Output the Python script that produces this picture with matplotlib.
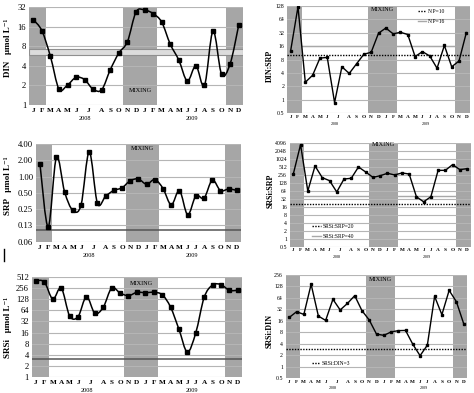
import numpy as np
import matplotlib.pyplot as plt
from matplotlib.path import Path
from matplotlib.patches import PathPatch
from matplotlib.ticker import NullLocator

plt.rcParams['font.family'] = ['Liberation Serif', 'DejaVu Serif']

# sampling dates J 2008 .. D 2009 (25 samples, two in summer 2008)
samples = np.arange(25)
months = ['J', 'F', 'M', 'A', 'M', 'J', 'J', 'A', 'S', 'O', 'N', 'D'] * 2
month_pos = [0, 1, 2, 3, 4, 5, 6.5, 8, 9, 10, 11, 12,
             13, 14, 15, 16, 17, 18, 19, 20, 21, 22, 23, 24]
years = ['2008', '2009']
year_pos = [6, 18.5]
mixing = [(-0.5, 1.5), (10.5, 14.5), (22.5, 24.5)]

din = [20.4, 13.9, 5.6, 1.76, 2.03, 2.66, 2.45, 1.74, 1.72, 3.49, 6.3, 9.4, 26.8,
       28.8, 25.3, 18.8, 8.6, 4.9, 2.34, 4.0, 2.0, 13.7, 2.96, 4.3, 16.9]
srp = [1.68, 0.118, 2.27, 0.52, 0.237, 0.297, 2.85, 0.32, 0.435, 0.555, 0.62, 0.84, 0.90,
       0.72, 0.88, 0.60, 0.30, 0.55, 0.197, 0.44, 0.40, 0.86, 0.55, 0.59, 0.555]
srsi = [399, 368, 128, 254, 45, 43, 148, 53, 77, 254, 186, 158, 194,
        190, 194, 168, 78, 19.7, 4.8, 15.7, 142, 306, 313, 220, 220]
din_srp = [12.6, 121, 2.48, 3.55, 8.6, 8.9, 0.87, 5.5, 3.9, 6.4, 10.5, 11.6, 31,
           40.5, 30, 32.5, 29, 9.3, 12, 9.6, 5.1, 16.5, 5.5, 7.4, 32]
srsi_srp = [282, 3650, 64, 568, 205, 158, 59, 182, 194, 520, 335, 211, 243,
            300, 260, 309, 282, 39, 25, 39, 388, 388, 640, 413, 449]
srsi_din = [19.8, 27.9, 23.7, 146, 21.4, 16.5, 59, 31, 46, 73.5, 29.7, 16.9, 7.2,
            6.7, 8.2, 8.9, 9.0, 3.9, 1.96, 3.7, 70.5, 23.3, 101, 51, 13.6]

din_band = (5.95, 7.2)
srp_limit = 0.105
srsi_limit = 3.1

W, H = 474, 393
fig = plt.figure(figsize=(W / 100, H / 100), dpi=100)
DOT = (0, (1, 1))


def make_ax(l, r, t, b):
    return fig.add_axes([l / W, 1 - b / H, (r - l) / W, (b - t) / H])


def smooth_path(x, y):
    lx = np.asarray(x, float)
    ly = np.log2(y)
    n = len(lx)
    verts = [(lx[0], ly[0])]
    codes = [Path.MOVETO]
    for i in range(n - 1):
        p0 = max(i - 1, 0)
        p3 = min(i + 2, n - 1)
        c1 = (lx[i] + (lx[i + 1] - lx[p0]) / 6, ly[i] + (ly[i + 1] - ly[p0]) / 6)
        c2 = (lx[i + 1] - (lx[p3] - lx[i]) / 6, ly[i + 1] - (ly[p3] - ly[i]) / 6)
        verts += [c1, c2, (lx[i + 1], ly[i + 1])]
        codes += [Path.CURVE4] * 3
    v = np.array(verts)
    v[:, 1] = 2 ** v[:, 1]
    return Path(v, codes)


def setup(ax, yticks, ylabels, big, mix_y, month_pad, year_off):
    fs = 6.2 if big else 4.2
    mfs = 5.2 if big else 3.8
    ax.set_yscale('log', base=2)
    ax.set_ylim(yticks[0], yticks[-1])
    ax.set_xlim(-0.5, 24.5)
    for a, b in mixing:
        ax.axvspan(a, b, color='#a6a6a6', lw=0, zorder=0)
    ax.set_yticks(yticks, ylabels)
    ax.yaxis.set_minor_locator(NullLocator())
    ax.grid(axis='y', color='#b5b5b5', lw=0.8)
    ax.set_axisbelow(False)
    ax.set_xticks(month_pos, months)
    ax.tick_params(axis='y', length=0, labelsize=fs, pad=2)
    ax.tick_params(axis='x', length=0, labelsize=mfs, pad=month_pad)
    for lbl in ax.get_xticklabels():
        lbl.set_fontweight('bold')
    for s in ax.spines.values():
        s.set_visible(False)
    for yr, p in zip(years, year_pos):
        ax.annotate(yr, xy=(p, 0), xycoords=('data', 'axes fraction'),
                    xytext=(0, -year_off), textcoords='offset pixels',
                    ha='center', va='center', fontsize=mfs - 0.8)
    ax.text(12.5, mix_y, 'MIXING', transform=ax.get_xaxis_transform(),
            ha='center', va='center', fontsize=4.5, zorder=5)


def left_series(ax, vals):
    ax.add_patch(PathPatch(smooth_path(samples, vals), fc='none', ec='black',
                           lw=1.1, zorder=4))
    ax.plot(samples, vals, ls='none', marker='s', ms=3.0, color='black', zorder=5)


def right_series(ax, vals):
    ax.plot(samples, vals, '-', marker='s', ms=2.0, color='black', lw=1.0, zorder=5)


def small_legend(ax, **kw):
    ax.legend(fontsize=4, frameon=False, handlelength=1.5, handletextpad=0.3,
              labelspacing=0.8, borderpad=0.3, **kw)


# DIN
ax1 = make_ax(29, 243, 7, 105)
setup(ax1, [1, 2, 4, 8, 16, 32], ['1', '2', '4', '8', '16', '32'], True, 0.153, 1.8, 13)
ax1.axhspan(din_band[0], din_band[1], fc='#dcdcdc', ec='#8f8f8f', lw=0.8, zorder=1)
left_series(ax1, din)

# DIN:SRP
ax2 = make_ax(287, 470, 5.7, 113.3)
t2 = [0.5, 1, 2, 4, 8, 16, 32, 64, 128]
setup(ax2, t2, ['0.5', '1', '2', '4', '8', '16', '32', '64', '128'], False, 0.967, 1.2, 11)
ax2.axhline(10, color='black', ls=DOT, lw=1.0, zorder=3, label='N:P=10')
ax2.axhline(16, color='#a8a8a8', ls='-', lw=1.0, zorder=3, label='N:P=16')
right_series(ax2, din_srp)
small_legend(ax2, loc='upper left', bbox_to_anchor=(0.69, 1.01))

# SRP
ax3 = make_ax(35.9, 241, 144, 241.7)
t3 = [0.0625, 0.125, 0.25, 0.5, 1, 2, 4]
setup(ax3, t3, ['0.06', '0.13', '0.25', '0.50', '1.00', '2.00', '4.00'], True, 0.949, 2.2, 14)
ax3.axhline(srp_limit, color='#555555', lw=1.1, zorder=3)
left_series(ax3, srp)

# SRSi:SRP
ax4 = make_ax(289.7, 470.7, 143.3, 246.7)
t4 = [0.5 * 2 ** k for k in range(14)]
setup(ax4, t4, ['0.5'] + [str(int(v)) for v in t4[1:]], False, 0.985, 0.6, 10)
ax4.axhline(20, color='black', ls=DOT, lw=1.0, zorder=3, label='SRSi:SRP=20')
ax4.axhline(40, color='#a8a8a8', ls='-', lw=1.0, zorder=3, label='SRSi:SRP=40')
right_series(ax4, srsi_srp)
small_legend(ax4, loc='upper left', bbox_to_anchor=(0.1, 0.26))

# SRSi
ax5 = make_ax(31.8, 242, 276.7, 377.3)
t5 = [1, 2, 4, 8, 16, 32, 64, 128, 256, 512]
setup(ax5, t5, [str(v) for v in t5], True, 0.937, 1.8, 13)
ax5.axhline(srsi_limit, color='#555555', lw=1.1, zorder=3)
left_series(ax5, srsi)

# SRSi:DIN
ax6 = make_ax(285.7, 467.3, 275, 378.3)
t6 = [0.5, 1, 2, 4, 8, 16, 32, 64, 128, 256]
setup(ax6, t6, ['0.5'] + [str(int(v)) for v in t6[1:]], False, 0.961, 1.2, 10)
ax6.axhline(3, color='black', ls=DOT, lw=1.0, zorder=3, label='SRSi:DIN=3')
right_series(ax6, srsi_din)
small_legend(ax6, loc='center left', bbox_to_anchor=(0.12, 0.148))

# y labels
lab = dict(rotation=90, ha='center', va='center', fontweight='bold')
fig.text(8.5 / W, 1 - 48 / H, 'DIN   μmol L⁻¹', fontsize=6.5, **lab)
fig.text(8.5 / W, 1 - 186 / H, 'SRP   μmol L⁻¹', fontsize=6.5, **lab)
fig.text(8 / W, 1 - 327 / H, 'SRSi   μmol L⁻¹', fontsize=6.5, **lab)
fig.text(270 / W, 1 - 65.5 / H, 'DIN:SRP', fontsize=5.8, **lab)
fig.text(271 / W, 1 - 191 / H, 'SRSi:SRP', fontsize=5.8, **lab)
fig.text(270 / W, 1 - 331 / H, 'SRSi:DIN', fontsize=5.8, **lab)

# stray mark at the left edge of the scan
fig.add_artist(plt.Line2D([4 / W, 4 / W], [1 - 249 / H, 1 - 261 / H], color='black', lw=1))

fig.savefig('out.png', dpi=100)
